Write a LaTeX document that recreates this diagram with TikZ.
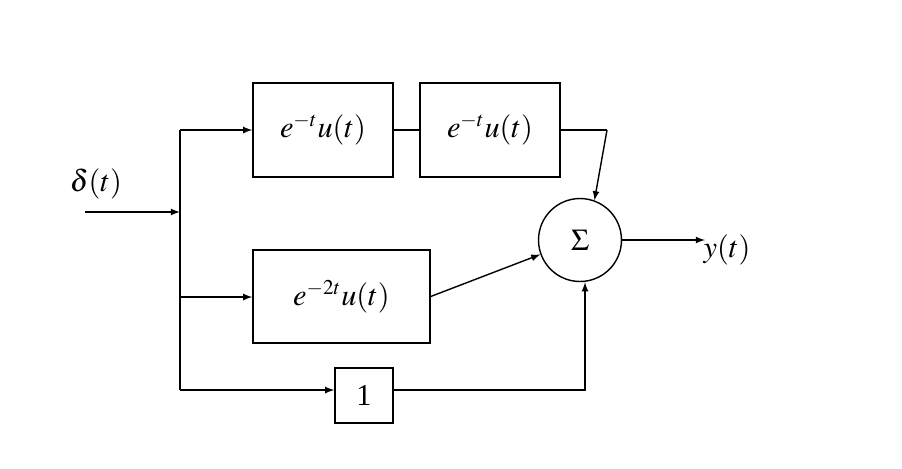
\documentclass[tikz,border=0pt]{standalone}
\usepackage{mathptmx}
\usepackage[no-math]{fontspec}
\setmainfont{Liberation Serif}
\usetikzlibrary{shapes.geometric}

\begin{document}
\begin{tikzpicture}[>=latex,thick,x=0.02cm,y=-0.02cm,font=\LARGE]
  \tikzset{blk/.style={draw,inner sep=0pt}}
  \useasboundingbox (0,0) rectangle (902,468);

  % blocks
  \node[blk,minimum width=2.8cm,minimum height=1.88cm] (h1) at (323,130) {$e^{-t}u(t)$};
  \node[blk,minimum width=2.8cm,minimum height=1.88cm] (h2) at (490,130) {$e^{-t}u(t)$};
  \node[blk,minimum width=3.54cm,minimum height=1.86cm] (h3) at (341.5,296.5) {$e^{-2t}u(t)$};
  \node[blk,minimum width=1.16cm,minimum height=1.1cm] (h4) at (364,395.5) {1};
  \node[draw,circle,minimum size=1.66cm,inner sep=0pt] (sum) at (580,240) {$\Sigma$};

  % input and split
  \coordinate (in) at (85,212);
  \coordinate (sp) at (180,212);
  \coordinate (ta) at (180,130);
  \coordinate (tm) at (180,297);
  \coordinate (tb) at (180,390);
  \coordinate (ky) at (607,130);
  \coordinate (kb) at (585,390);
  \coordinate (out) at (705,238);
  \node (d) at (96,184) {$\delta(t)$};
  \node (y) at (727,250) {$y(t)$};

  \draw[->] (in) -- (sp);
  \draw (ta) -- (tb);
  \draw[->] (ta) -- (h1.west);
  \draw (h1.east) -- (h2.west);
  \draw (h2.east) -- (ky);
  \draw[->] (ky) -- (sum.70);
  \draw[->] (tm) -- (h3.west|-tm);
  \draw[->] (tb) -- (h4.west|-tb);
  \draw[->] (h3.east) -- (sum.200);
  \draw[->] (h4.east|-tb) -- (kb) -- (sum.south-|kb);
  \draw[->] (sum.east) -- (out|-sum.east);
\end{tikzpicture}
\end{document}
